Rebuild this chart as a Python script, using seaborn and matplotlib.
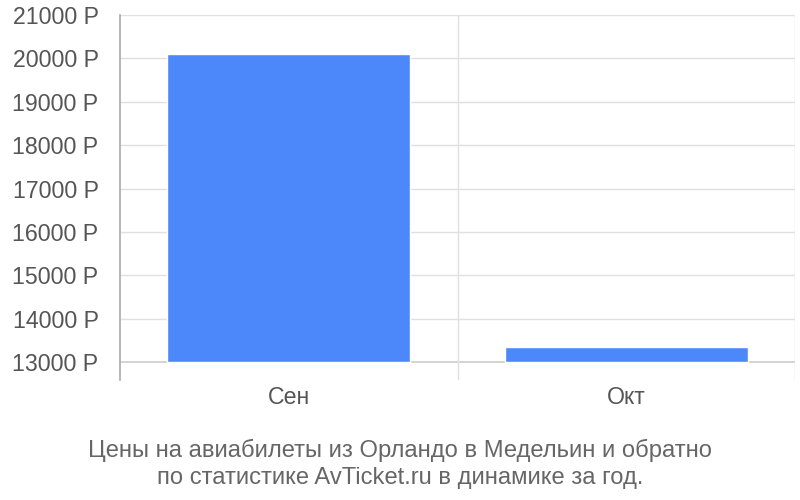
import matplotlib
matplotlib.use("Agg")
import matplotlib.pyplot as plt
import seaborn as sns
import pandas as pd

categories = ["Сен", "Окт"]
prices = [20100, 13340]
yticks = [13000, 14000, 15000, 16000, 17000, 18000, 19000, 20000, 21000]
title_lines = ["Цены на авиабилеты из Орландо в Медельин и обратно",
               "по статистике AvTicket.ru в динамике за год."]

base = 13000
df = pd.DataFrame({"month": categories, "price": prices})
df["height"] = df["price"] - base

sns.set_theme(style="white")
plt.rcParams["font.family"] = ["Liberation Sans", "DejaVu Sans"]

fig = plt.figure(figsize=(8, 5), dpi=100)
ax = fig.add_axes([0.15, 0.24, 0.844, 0.73])

sns.barplot(data=df, x="month", y="height", ax=ax, color="#4d88fb",
            saturation=1, width=0.72, bottom=base, zorder=3)

ax.set_xlim(-0.5, 1.5)
ymin = base - 18 / 43.4 * 1000
ax.set_ylim(ymin, 21000)
ax.set_yticks(yticks)
ax.set_yticklabels([f"{v} Р" for v in yticks])
ax.tick_params(axis="y", length=14.4, color="#dddddd", labelsize=16.7, labelcolor="#555555", pad=1)
ax.tick_params(axis="x", length=0, labelsize=16.7, labelcolor="#555555", pad=4)
for v in yticks:
    ax.axhline(v, color="#cccccc" if v == base else "#e0e0e0", lw=1.2 if v == base else 1, zorder=1)
for xv in [0.5, 1.5]:
    ax.axvline(xv, color="#e0e0e0", lw=1, zorder=1)
for s in ["top", "right", "bottom"]:
    ax.spines[s].set_visible(False)
ax.spines["left"].set_color("#aaaaaa")
ax.spines["left"].set_linewidth(1.2)
ax.set_xlabel("")
ax.set_ylabel("")

fig.text(0.5, 0.072, "\n".join(title_lines), ha="center", va="center",
         fontsize=17.1, color="#666666", linespacing=1.3)

fig.savefig("out.png", dpi=100)
